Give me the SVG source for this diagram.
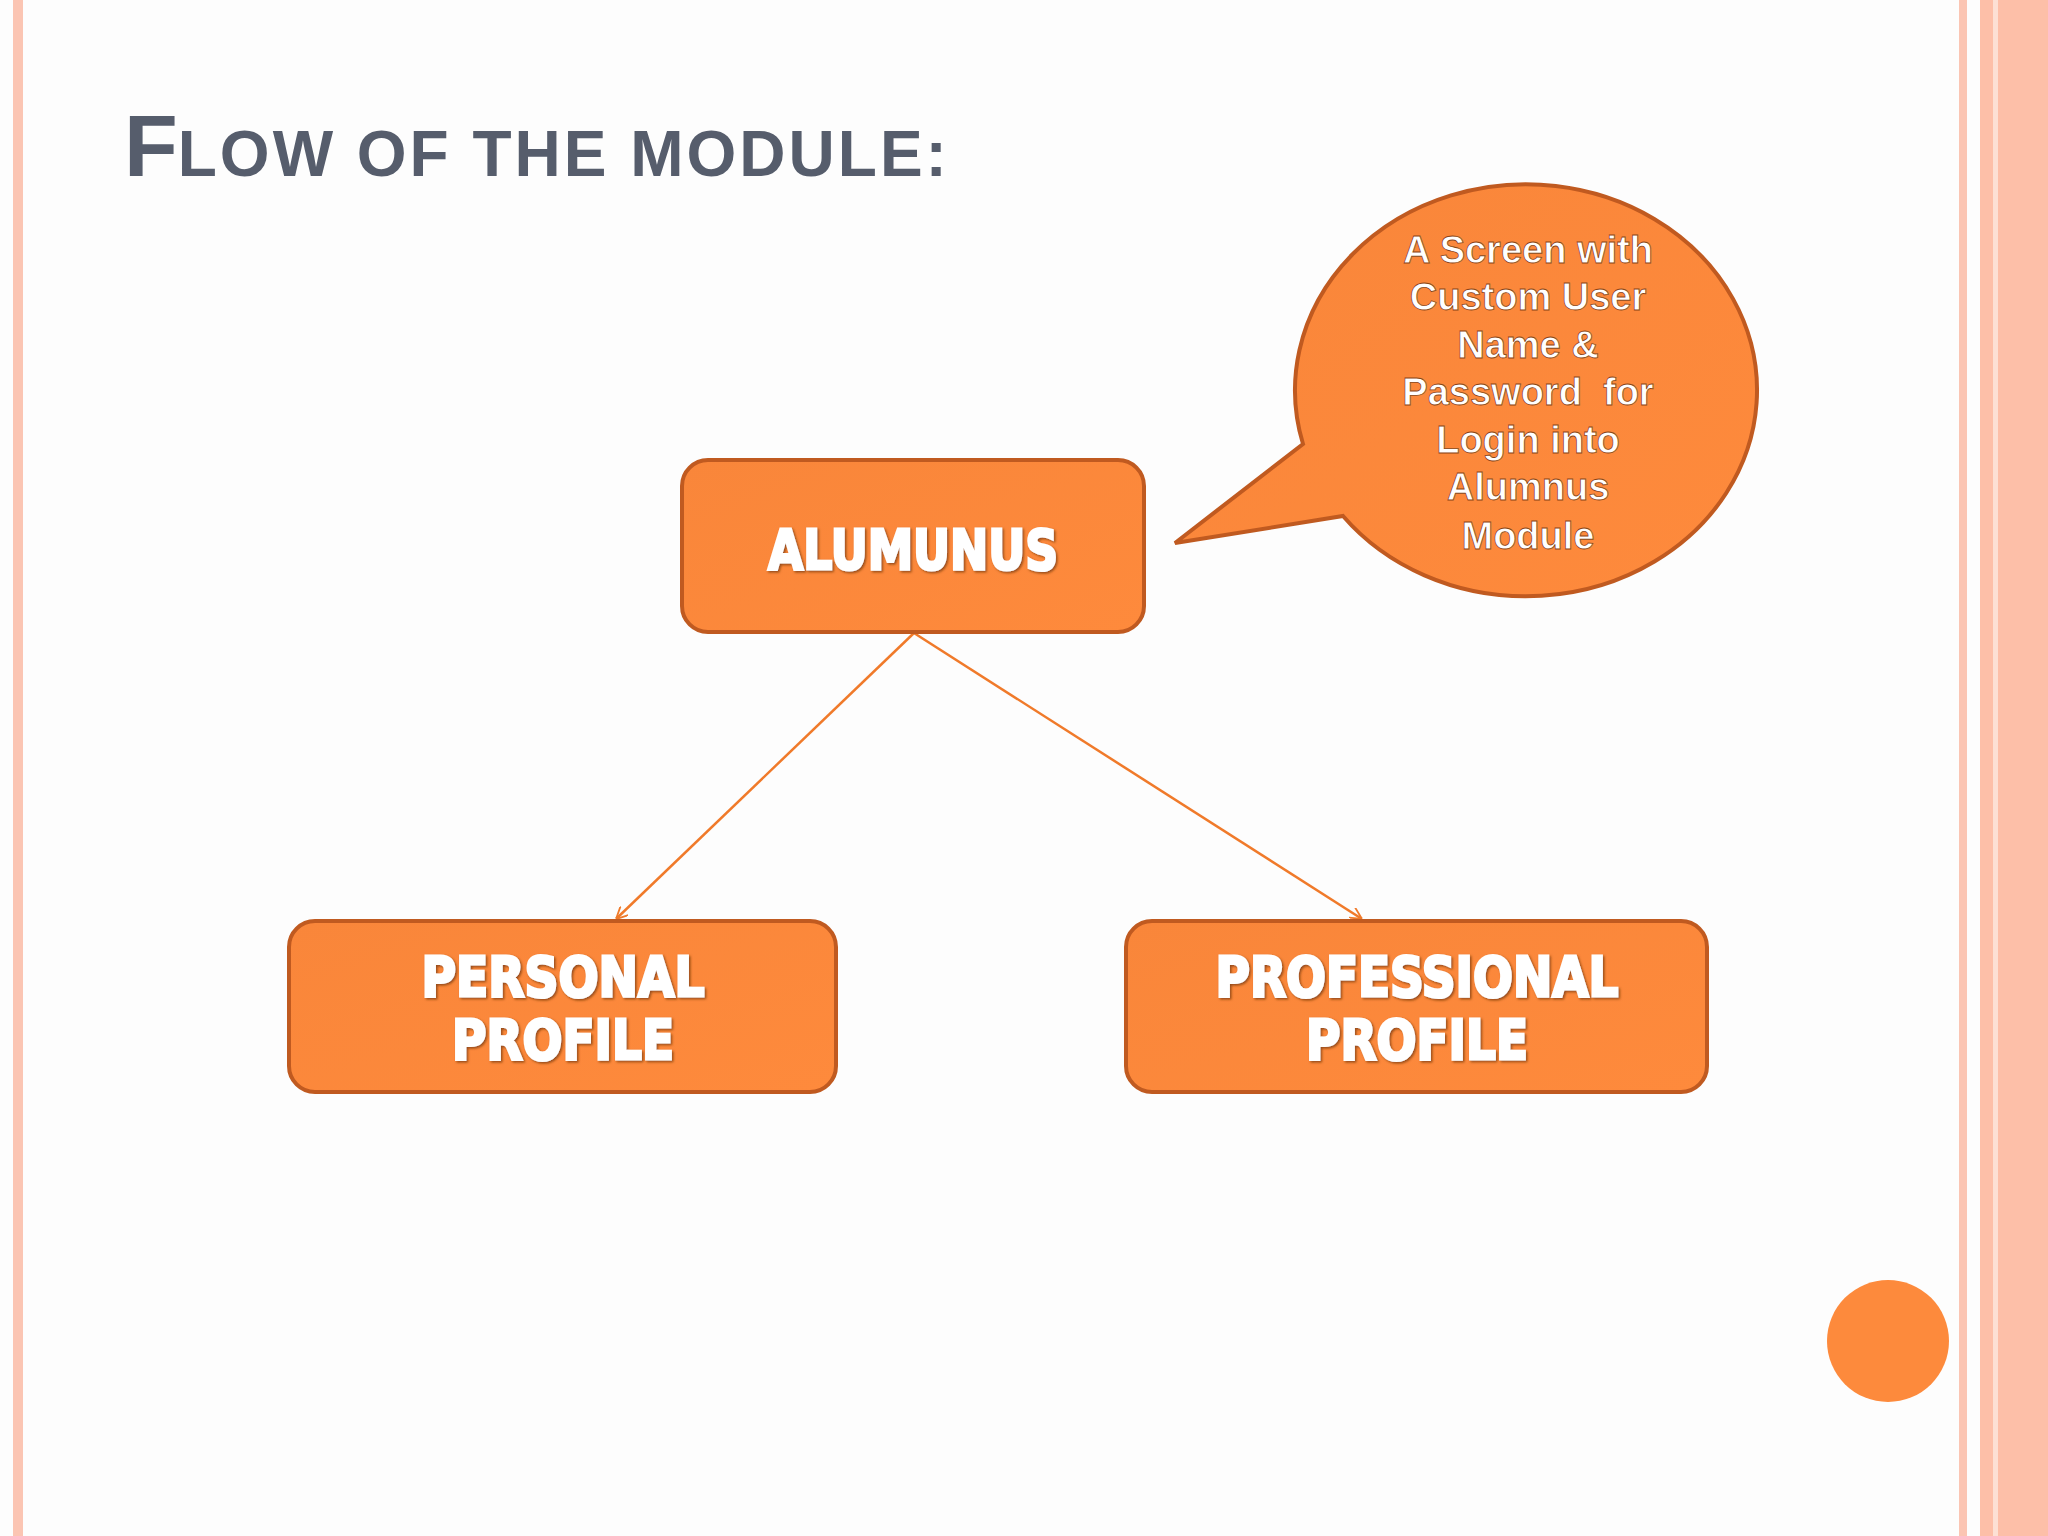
<svg xmlns="http://www.w3.org/2000/svg" width="2048" height="1536" viewBox="0 0 2048 1536">
<style>
.box{fill:url(#og);stroke:#c05a20;stroke-width:4}
.bt{font-family:"DejaVu Sans",sans-serif;font-weight:bold;fill:#fff;stroke:#fff;stroke-width:3;paint-order:stroke;text-anchor:middle;font-size:56px;filter:url(#sh)}
.bb{font-family:"Liberation Sans",Arial,sans-serif;font-weight:bold;fill:#fff;stroke:#8a4515;stroke-width:0.8;text-anchor:middle;font-size:38px}
.con{stroke:#f07a2a;stroke-width:2.5;fill:none;marker-end:url(#ah)}
</style>
<defs>
<linearGradient id="og" x1="0" y1="0" x2="1" y2="1"><stop offset="0" stop-color="#f9863a"/><stop offset="1" stop-color="#fe8a3c"/></linearGradient>
<filter id="sh" x="-10%" y="-20%" width="120%" height="140%"><feDropShadow dx="1.5" dy="1.5" stdDeviation="1" flood-color="#7a3a10" flood-opacity="0.8"/></filter>
<marker id="ah" viewBox="0 0 10 10" refX="10" refY="5" markerWidth="12" markerHeight="12" orient="auto" markerUnits="userSpaceOnUse"><path d="M0,0 L10,5 L0,10" fill="none" stroke="#f07a2a" stroke-width="1.5"/></marker>
</defs>
<rect width="2048" height="1536" fill="#fdfdfd"/>
<rect x="13" y="0" width="10" height="1536" fill="#fbc5b3"/>
<rect x="1959" y="0" width="8" height="1536" fill="#fbc5b3"/>
<rect x="1980" y="0" width="68" height="1536" fill="#fdbfa8"/>
<rect x="1993" y="0" width="5" height="1536" fill="#fde0d4"/>
<text x="124" y="176" font-family="Liberation Sans,Arial,sans-serif" font-weight="bold" fill="#565d6c" font-size="88">F<tspan font-size="64" letter-spacing="3">LOW OF THE MODULE:</tspan></text>
<g id="connectors">
<line class="con" x1="914" y1="633" x2="616" y2="919"/>
<line class="con" x1="914" y1="633" x2="1362" y2="919"/>
</g>
<g id="alumunus"><rect class="box" x="682" y="460" width="462" height="172" rx="26"/><text class="bt" x="913" y="569" textLength="290" lengthAdjust="spacingAndGlyphs">ALUMUNUS</text></g>
<g id="personal"><rect class="box" x="289" y="921" width="547" height="171" rx="26"/><text class="bt" x="563" y="996" textLength="283" lengthAdjust="spacingAndGlyphs">PERSONAL</text><text class="bt" x="563" y="1059" textLength="222" lengthAdjust="spacingAndGlyphs">PROFILE</text></g>
<g id="professional"><rect class="box" x="1126" y="921" width="581" height="171" rx="26"/><text class="bt" x="1417" y="996" textLength="403" lengthAdjust="spacingAndGlyphs">PROFESSIONAL</text><text class="bt" x="1417" y="1059" textLength="222" lengthAdjust="spacingAndGlyphs">PROFILE</text></g>
<g id="bubble">
<path d="M1303,444 A231,206 0 1 1 1343,516 L1175,543 Z" class="box"/>
<g class="bb"><text x="1528" y="263">A Screen with</text><text x="1528" y="310">Custom User</text><text x="1528" y="358">Name &amp;</text><text x="1528" y="405" xml:space="preserve">Password  for</text><text x="1528" y="453">Login into</text><text x="1528" y="500">Alumnus</text><text x="1528" y="549">Module</text></g>
</g>
<circle cx="1888" cy="1341" r="61" fill="#fd8a3c"/>
</svg>
